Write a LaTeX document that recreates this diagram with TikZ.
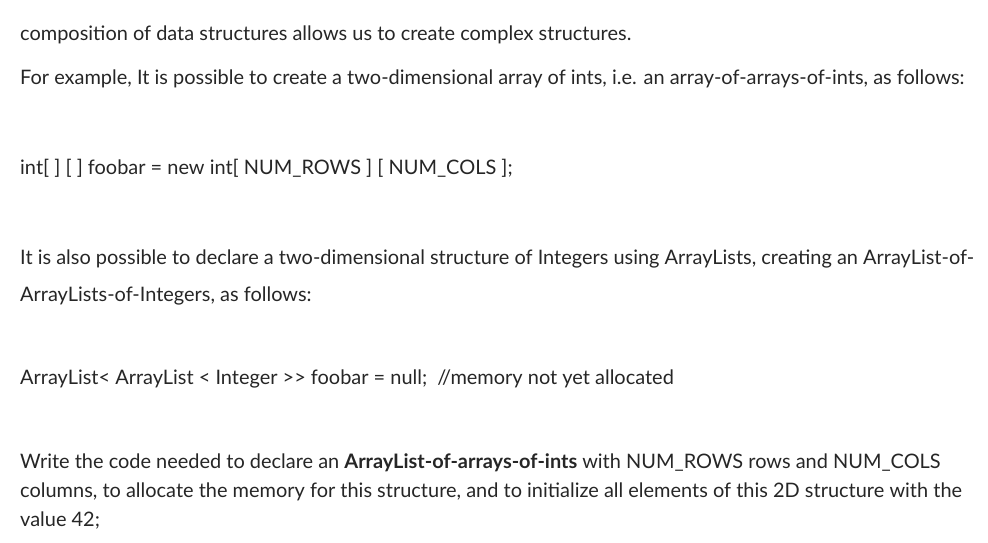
\documentclass[tikz,border=0pt]{standalone}
\usepackage{fontspec}
\setmainfont{Lato}
\begin{document}
\begin{tikzpicture}[x=1pt,y=1pt,txt/.style={anchor=base west,inner sep=0pt,font=\fontsize{19.95}{22}\selectfont,text=black!85}]
\useasboundingbox (0,0) rectangle (988,543);
\fill[white] (0,0) rectangle (988,543);
\node[txt] (l1) at (20,543-41) {composition of data structures allows us to create complex structures.};
\node[txt] (l2) at (20,543-85) {For example, It is possible to create a two-dimensional array of ints, i.e. an array-of-arrays-of-ints, as follows:};
\node[txt] (l3) at (20,543-175) {int[ ] [ ] foobar = new int[ NUM\_ROWS ] [ NUM\_COLS ];};
\node[txt] (l4) at (20,543-265) {It is also possible to declare a two-dimensional structure of Integers using ArrayLists, creating an ArrayList-of-};
\node[txt] (l5) at (20,543-302) {ArrayLists-of-Integers, as follows:};
\node[txt] (l6) at (20,543-385) {ArrayList< ArrayList < Integer >{}> foobar = null;\ \ //memory not yet allocated};
\node[txt] (l7) at (20,543-469) {Write the code needed to declare an \textbf{ArrayList-of-arrays-of-ints} with NUM\_ROWS rows and NUM\_COLS};
\node[txt] (l8) at (20,543-498) {columns, to allocate the memory for this structure, and to initialize all elements of this 2D structure with the};
\node[txt] (l9) at (20,543-527) {value 42;};
\end{tikzpicture}
\end{document}
